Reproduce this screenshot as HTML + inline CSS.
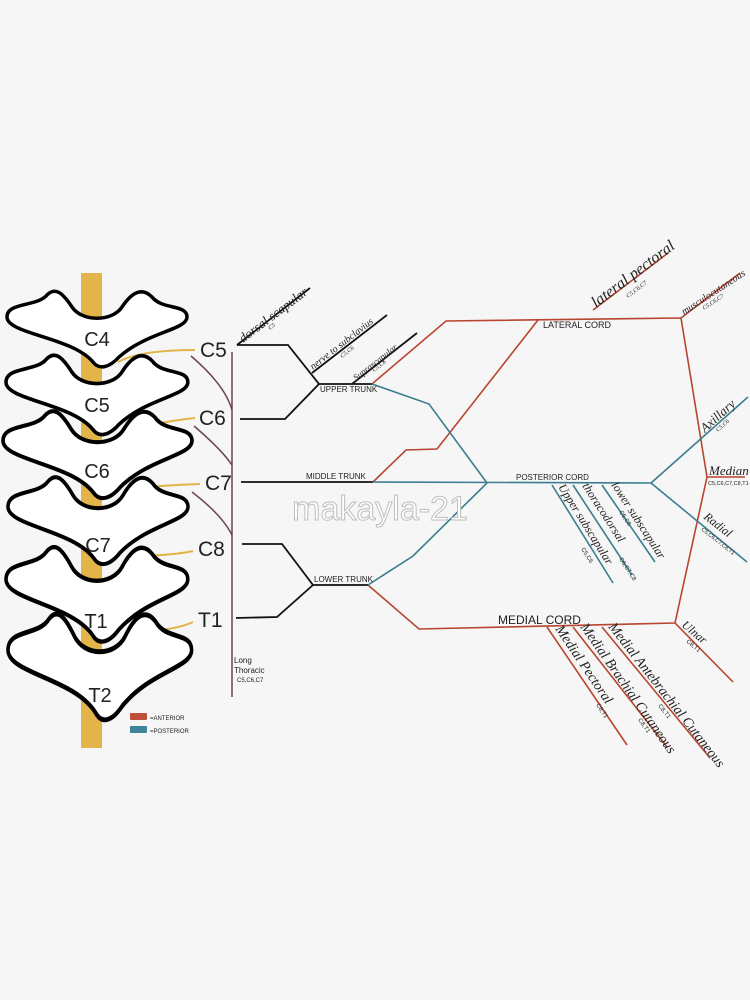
<!DOCTYPE html>
<html><head><meta charset="utf-8"><style>
html,body{margin:0;padding:0;background:#f6f6f6;}
svg{display:block}
text{font-family:"Liberation Serif",serif;font-style:italic;fill:#222}
.s{font-family:"Liberation Sans",sans-serif;font-style:normal}
</style></head><body>
<svg width="750" height="1000" viewBox="0 0 750 1000" xmlns="http://www.w3.org/2000/svg">
<rect width="750" height="1000" fill="#f6f6f6"/>
<rect x="81" y="273" width="21" height="475" fill="#e3b44a"/>
<g stroke="#e3b44a" stroke-width="2" fill="none">
<path d="M118,362 Q140,350 195,350"/>
<path d="M150,425 Q175,420 195,418"/>
<path d="M125,490 Q160,485 200,484"/>
<path d="M140,556 Q175,555 193,551"/>
<path d="M160,630 Q180,628 193,622"/>
</g>
<defs>
<path id="v" d="M0,25 C0,10 30,15 40,3 C48,-5 55,0 65,15 C75,30 105,30 115,15 C125,0 135,-5 145,5 C155,18 180,12 180,25 C180,38 140,40 112,65 C102,76 92,78 86,70 C65,45 0,42 0,25 Z"/>
</defs>
<g fill="#fff" stroke="#000" stroke-width="3.5">
<use href="#v" transform="translate(7,292) scale(1,1)"/>
<use href="#v" transform="translate(6,356) scale(1.01,1.05)"/>
<use href="#v" transform="translate(3,412) scale(1.05,1.15)"/>
<use href="#v" transform="translate(8,478) scale(1,1.15)"/>
<use href="#v" transform="translate(6,548) scale(1.01,1.25)"/>
<use href="#v" transform="translate(8,615) scale(1.02,1.4)"/>
</g>
<g font-size="20" text-anchor="middle">
<text class="s" x="97" y="346">C4</text>
<text class="s" x="97" y="412">C5</text>
<text class="s" x="97" y="478">C6</text>
<text class="s" x="98" y="552">C7</text>
<text class="s" x="96" y="628">T1</text>
<text class="s" x="100" y="702">T2</text>
</g>
<g font-size="21">
<text class="s" x="200" y="357">C5</text>
<text class="s" x="199" y="425">C6</text>
<text class="s" x="205" y="490">C7</text>
<text class="s" x="198" y="556">C8</text>
<text class="s" x="198" y="627">T1</text>
</g>
<g stroke="#6b4552" stroke-width="1.5" fill="none">
<line x1="232" y1="352" x2="232" y2="697"/>
<path d="M191,356 Q225,385 232,410"/>
<path d="M194,426 Q222,450 232,465"/>
<path d="M192,492 Q222,515 232,535"/>
</g>
<g stroke="#111" stroke-width="1.8" fill="none">
<path d="M237,345 L288,345 L319,384 L372,384"/>
<path d="M240,419 L285,419 L319,384"/>
<line x1="241" y1="482" x2="373" y2="482"/>
<path d="M242,544 L282,544 L313,585 L368,585"/>
<path d="M236,618 L277,617 L313,585"/>
<line x1="237" y1="345" x2="310" y2="288"/>
<line x1="312" y1="373" x2="387" y2="315"/>
<line x1="352" y1="384" x2="417" y2="333"/>
</g>
<g stroke="#b8452f" stroke-width="1.6" fill="none">
<path d="M372,384 L446,321 L681,318 L707,477 L675,623 L419,629 L368,585"/>
<path d="M373,482 L406,450 L437,449 L538,320"/>
<line x1="593" y1="310" x2="668" y2="253"/>
<line x1="681" y1="318" x2="740" y2="273"/>
<line x1="707" y1="477" x2="745" y2="477"/>
<line x1="675" y1="623" x2="733" y2="682"/>
<line x1="547" y1="627" x2="627" y2="745"/>
<line x1="573" y1="627" x2="667" y2="747"/>
<line x1="602" y1="627" x2="710" y2="758"/>
</g>
<g stroke="#3b7e90" stroke-width="1.6" fill="none">
<path d="M372,384 L429,404 L487,483"/>
<path d="M368,585 L413,556 L487,483"/>
<line x1="373" y1="482" x2="651" y2="483"/>
<line x1="651" y1="483" x2="748" y2="397"/>
<line x1="651" y1="483" x2="747" y2="562"/>
<line x1="552" y1="485" x2="613" y2="583"/>
<line x1="573" y1="485" x2="632" y2="575"/>
<line x1="602" y1="485" x2="655" y2="562"/>
</g>
<g font-size="8">
<text class="s" x="320" y="392" font-size="8">UPPER TRUNK</text>
<text class="s" x="306" y="479" font-size="8">MIDDLE TRUNK</text>
<text class="s" x="314" y="582" font-size="8">LOWER TRUNK</text>
<text class="s" x="543" y="328" font-size="9">LATERAL CORD</text>
<text class="s" x="516" y="480" font-size="8">POSTERIOR CORD</text>
<text class="s" x="498" y="624" font-size="12">MEDIAL CORD</text>
<text class="s" x="234" y="663" font-size="8">Long</text>
<text class="s" x="234" y="673" font-size="8">Thoracic</text>
<text class="s" x="237" y="682" font-size="6">C5,C6,C7</text>
</g>
<text x="0" y="0" font-size="13" transform="translate(243,343) rotate(-37)">dorsal scapular</text>
<text x="0" y="0" font-size="6" transform="translate(270,330) rotate(-37)">C5</text>
<text x="0" y="0" font-size="10" transform="translate(313,370) rotate(-38)">nerve to subclavius</text>
<text x="0" y="0" font-size="6" transform="translate(342,358) rotate(-38)">C5,C6</text>
<text x="0" y="0" font-size="9" transform="translate(356,381) rotate(-38)">Suprascapular</text>
<text x="0" y="0" font-size="6" transform="translate(374,372) rotate(-38)">C5,C6</text>
<text x="0" y="0" font-size="16" transform="translate(596,308) rotate(-37)">lateral pectoral</text>
<text x="0" y="0" font-size="6" transform="translate(628,298) rotate(-37)">C5,C6,C7</text>
<text x="0" y="0" font-size="10" transform="translate(684,315) rotate(-33)">musculocutaneous</text>
<text x="0" y="0" font-size="6" transform="translate(704,310) rotate(-33)">C5,C6,C7</text>
<text x="0" y="0" font-size="13" transform="translate(705,433) rotate(-42)">Axillary</text>
<text x="0" y="0" font-size="6" transform="translate(718,432) rotate(-42)">C5,C6</text>
<text x="709" y="475" font-size="13">Median</text>
<text class="s" x="708" y="485" font-size="5.5">C5,C6,C7,C8,T1</text>
<text x="0" y="0" font-size="12" transform="translate(703,518) rotate(38)">Radial</text>
<text class="s" x="0" y="0" font-size="5.5" transform="translate(701,530) rotate(38)">C5,C6,C7,C8,T1</text>
<text x="0" y="0" font-size="12" transform="translate(681,626) rotate(40)">Ulnar</text>
<text class="s" x="0" y="0" font-size="6" transform="translate(686,642) rotate(40)">C8,T1</text>
<text x="0" y="0" font-size="12" transform="translate(558,487) rotate(58)">Upper subscapular</text>
<text class="s" x="0" y="0" font-size="6" transform="translate(581,549) rotate(58)">C5,C6</text>
<text x="0" y="0" font-size="12" transform="translate(582,486) rotate(57)">thoracodorsal</text>
<text class="s" x="0" y="0" font-size="6" transform="translate(619,559) rotate(57)">C6,C7,C8</text>
<text x="0" y="0" font-size="12" transform="translate(611,485) rotate(57)">lower subscapular</text>
<text class="s" x="0" y="0" font-size="6" transform="translate(619,512) rotate(57)">C5,C6</text>
<text x="0" y="0" font-size="14" transform="translate(555,629) rotate(56)">Medial Pectoral</text>
<text class="s" x="0" y="0" font-size="6" transform="translate(596,705) rotate(56)">C8,T1</text>
<text x="0" y="0" font-size="14" transform="translate(580,627) rotate(55)">Medial Brachial Cutaneous</text>
<text class="s" x="0" y="0" font-size="6" transform="translate(638,720) rotate(55)">C8,T1</text>
<text x="0" y="0" font-size="14" transform="translate(608,627) rotate(52)">Medial Antebrachial Cutaneous</text>
<text class="s" x="0" y="0" font-size="6" transform="translate(658,706) rotate(52)">C8,T1</text>
<rect x="130" y="713" width="17" height="7" fill="#c0503a" rx="1"/>
<rect x="130" y="726" width="17" height="7" fill="#3e8599" rx="1"/>
<text class="s" x="150" y="720" font-size="6">=ANTERIOR</text>
<text class="s" x="150" y="733" font-size="6">=POSTERIOR</text>
<text x="380" y="520" font-size="34" text-anchor="middle" style="font-family:'Liberation Sans',sans-serif;font-style:normal;fill:#ffffff;stroke:#bdbdbd;stroke-width:1">makayla-21</text>
</svg>
</body></html>
